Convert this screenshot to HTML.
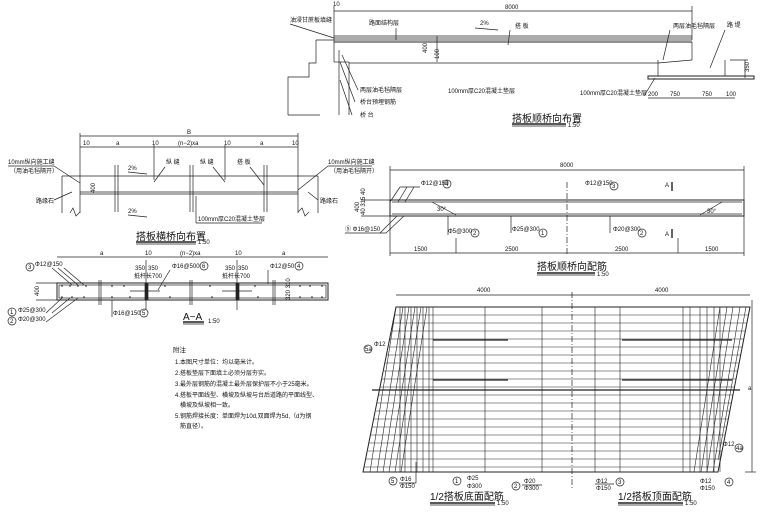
<!DOCTYPE html>
<html><head><meta charset="utf-8"><style>
html,body{margin:0;padding:0;background:#fff;}
svg{display:block;font-family:"Liberation Sans","Noto Sans CJK SC",sans-serif;}
.t{font-size:6px;fill:#111}
.tt{font-size:10px;fill:#111}
</style></head><body>
<svg width="760" height="527" viewBox="0 0 760 527" xmlns="http://www.w3.org/2000/svg" stroke="#222" stroke-width="0.7" fill="none">
<!-- ===== TOP: 搭板顺桥向布置 ===== -->
<line x1="334" y1="11" x2="692" y2="11"/><line x1="334" y1="6" x2="334" y2="40"/><line x1="692" y1="6" x2="692" y2="40"/>
<text x="505" y="9" class="t" stroke="none">8000</text><text x="333" y="6" class="t" stroke="none">10</text>
<line x1="334" y1="36" x2="692" y2="36"/><line x1="334" y1="38" x2="692" y2="38"/><line x1="334" y1="40" x2="692" y2="40"/><line x1="334" y1="42" x2="692" y2="42" stroke-width="1"/>
<line x1="334" y1="40" x2="334" y2="62"/><line x1="334" y1="62" x2="349" y2="62"/>
<line x1="349" y1="63" x2="658" y2="63"/><line x1="658" y1="63" x2="692" y2="60"/><line x1="692" y1="42" x2="692" y2="60"/>
<line x1="658" y1="60" x2="658" y2="76"/>
<rect x="648" y="76" width="106" height="3" stroke-width="1"/>
<line x1="725" y1="60" x2="725" y2="76"/><line x1="730" y1="60" x2="748" y2="60"/><line x1="745" y1="60" x2="745" y2="78"/>
<text x="749" y="72" class="t" stroke="none" transform="rotate(-90 749 72)">350</text>
<path d="M316 40 H334 M316 40 V63 H309 V77 H288 V115 M288 115 H320 M349 62 V115"/>
<line x1="339" y1="50" x2="339" y2="115"/><line x1="342" y1="55" x2="358" y2="90"/><line x1="340" y1="62" x2="355" y2="102"/><line x1="340" y1="80" x2="352" y2="115"/>
<text x="290" y="22" class="t" stroke="none">油浸甘蔗板填缝</text><line x1="290" y1="24" x2="334" y2="38"/>
<text x="369" y="25" class="t" stroke="none">路面结构层</text><line x1="396" y1="28" x2="396" y2="40"/>
<text x="480" y="25" class="t" stroke="none">2%</text><line x1="475" y1="28" x2="498" y2="30"/>
<text x="515" y="28" class="t" stroke="none">搭 板</text><line x1="510" y1="30" x2="508" y2="45"/>
<text x="673" y="28" class="t" stroke="none">两层油毛毡隔层</text><line x1="670" y1="30" x2="663" y2="60"/>
<text x="727" y="27" class="t" stroke="none">路 堤</text><line x1="725" y1="30" x2="710" y2="68"/>
<text x="424" y="50" class="t" stroke="none" transform="rotate(-90 427 50)">400</text>
<text x="436" y="56" class="t" stroke="none" transform="rotate(-90 439 56)">100</text>
<line x1="437" y1="36" x2="437" y2="62"/>
<text x="360" y="92" class="t" stroke="none">两层油毛毡隔层</text>
<text x="360" y="104" class="t" stroke="none">桥台预埋钢筋</text>
<text x="360" y="117" class="t" stroke="none">桥 台</text>
<text x="448" y="93" class="t" stroke="none">100mm厚C20混凝土垫层</text>
<text x="580" y="95" class="t" stroke="none">100mm厚C20混凝土垫层</text>
<line x1="644" y1="96" x2="655" y2="78"/>
<line x1="648" y1="98" x2="735" y2="98"/>
<text x="648" y="96" class="t" stroke="none">200</text><text x="670" y="96" class="t" stroke="none">750</text><text x="702" y="96" class="t" stroke="none">750</text><text x="726" y="96" class="t" stroke="none">100</text>
<text x="512" y="122" class="tt" stroke="none">搭板顺桥向布置</text><line x1="512" y1="124" x2="566" y2="124" stroke-width="1.4"/><line x1="512" y1="126" x2="566" y2="126"/>
<text x="568" y="127" class="t" stroke="none">1:50</text>

<!-- ===== 搭板横桥向布置 ===== -->
<line x1="80" y1="136" x2="298" y2="136"/><text x="187" y="134" class="t" stroke="none">B</text>
<line x1="80" y1="147" x2="298" y2="147"/>
<line x1="80" y1="133" x2="80" y2="213"/><line x1="298" y1="133" x2="298" y2="213"/>
<line x1="154" y1="145" x2="154" y2="180"/><line x1="225" y1="145" x2="225" y2="180"/>
<text x="83" y="145" class="t" stroke="none">10</text><text x="116" y="145" class="t" stroke="none">a</text><text x="152" y="145" class="t" stroke="none">10</text><text x="178" y="145" class="t" stroke="none">(n−2)xa</text><text x="224" y="145" class="t" stroke="none">10</text><text x="260" y="145" class="t" stroke="none">a</text><text x="292" y="145" class="t" stroke="none">10</text>
<line x1="80" y1="176" x2="298" y2="176"/><line x1="80" y1="192" x2="298" y2="192"/><line x1="80" y1="194" x2="298" y2="194"/>
<line x1="62" y1="176" x2="80" y2="176"/><line x1="62" y1="176" x2="62" y2="213"/><line x1="298" y1="176" x2="318" y2="176"/><line x1="318" y1="176" x2="318" y2="213"/>
<path d="M70 213 L73 208 L76 216 L80 212 M298 212 L302 208 L305 216 L309 212"/>
<line x1="115" y1="165" x2="115" y2="212"/><line x1="118" y1="165" x2="118" y2="212"/>
<line x1="190" y1="165" x2="190" y2="212"/><line x1="193" y1="165" x2="193" y2="212"/>
<line x1="264" y1="165" x2="264" y2="212"/><line x1="267" y1="165" x2="267" y2="212"/>
<text x="128" y="170" class="t" stroke="none">2%</text><line x1="128" y1="172" x2="147" y2="174"/>
<text x="128" y="213" class="t" stroke="none">2%</text><line x1="128" y1="215" x2="147" y2="217"/>
<text x="166" y="164" class="t" stroke="none">纵 缝</text><line x1="165" y1="167" x2="154" y2="182"/>
<text x="200" y="164" class="t" stroke="none">纵 缝</text><line x1="213" y1="167" x2="225" y2="182"/>
<text x="237" y="164" class="t" stroke="none">搭 板</text><line x1="250" y1="167" x2="264" y2="185"/>
<text x="8" y="164" class="t" stroke="none">10mm纵向施工缝</text><text x="10" y="173" class="t" stroke="none">（用油毛毡隔开）</text><line x1="8" y1="166" x2="54" y2="166"/><line x1="54" y1="166" x2="80" y2="183"/>
<text x="328" y="164" class="t" stroke="none">10mm纵向施工缝</text><text x="330" y="173" class="t" stroke="none">（用油毛毡隔开）</text><line x1="328" y1="166" x2="372" y2="166"/><line x1="328" y1="166" x2="298" y2="190"/>
<text x="36" y="203" class="t" stroke="none">路缘石</text><line x1="54" y1="200" x2="72" y2="192"/>
<text x="320" y="203" class="t" stroke="none">路缘石</text><line x1="318" y1="200" x2="308" y2="192"/>
<text x="198" y="221" class="t" stroke="none">100mm厚C20混凝土垫层</text><line x1="196" y1="223" x2="262" y2="223"/><line x1="196" y1="223" x2="196" y2="196"/>
<text x="92" y="190" class="t" stroke="none" transform="rotate(-90 95 190)">400</text>
<text x="136" y="240" class="tt" stroke="none">搭板横桥向布置</text><line x1="136" y1="242" x2="196" y2="242" stroke-width="1.4"/><line x1="136" y1="244" x2="196" y2="244"/>
<text x="198" y="244" class="t" stroke="none">1:50</text>

<!-- ===== A-A ===== -->
<line x1="57" y1="257" x2="328" y2="257"/>
<text x="100" y="255" class="t" stroke="none">a</text><text x="145" y="255" class="t" stroke="none">10</text><text x="180" y="255" class="t" stroke="none">(n−2)xa</text><text x="235" y="255" class="t" stroke="none">10</text><text x="282" y="255" class="t" stroke="none">a</text>
<rect x="57" y="283" width="271" height="17" stroke-width="1"/><rect x="59" y="285" width="267" height="13"/>
<line x1="146" y1="260" x2="146" y2="310"/><line x1="237" y1="260" x2="237" y2="310"/>
<rect x="145" y="283" width="3" height="17" fill="#222"/><rect x="236" y="283" width="3" height="17" fill="#222"/>
<line x1="130" y1="291" x2="160" y2="291"/><line x1="222" y1="291" x2="252" y2="291"/>
<line x1="99" y1="280" x2="99" y2="305"/><line x1="101" y1="280" x2="101" y2="305"/>
<line x1="190" y1="280" x2="190" y2="305"/><line x1="192" y1="280" x2="192" y2="305"/>
<line x1="273" y1="280" x2="273" y2="305"/><line x1="275" y1="280" x2="275" y2="305"/>
<g fill="#222" stroke="none">
<circle cx="62" cy="286" r="0.8"/><circle cx="70" cy="286" r="0.8"/><circle cx="78" cy="286" r="0.8"/><circle cx="86" cy="286" r="0.8"/><circle cx="112" cy="286" r="0.8"/><circle cx="124" cy="286" r="0.8"/><circle cx="165" cy="286" r="0.8"/><circle cx="210" cy="286" r="0.8"/><circle cx="255" cy="286" r="0.8"/><circle cx="300" cy="286" r="0.8"/><circle cx="310" cy="286" r="0.8"/><circle cx="322" cy="286" r="0.8"/>
<circle cx="62" cy="297" r="0.8"/><circle cx="72" cy="297" r="0.8"/><circle cx="84" cy="297" r="0.8"/><circle cx="112" cy="297" r="0.8"/><circle cx="130" cy="297" r="0.8"/><circle cx="170" cy="297" r="0.8"/><circle cx="212" cy="297" r="0.8"/><circle cx="258" cy="297" r="0.8"/><circle cx="300" cy="297" r="0.8"/><circle cx="312" cy="297" r="0.8"/><circle cx="322" cy="297" r="0.8"/>
</g>
<text x="36" y="293" class="t" stroke="none" transform="rotate(-90 39 293)">400</text><line x1="36" y1="283" x2="57" y2="283"/><line x1="36" y1="300" x2="57" y2="300"/>
<circle cx="30" cy="267" r="4"/><text x="28" y="269" class="t" stroke="none">3</text><text x="35" y="266" class="t" stroke="none">Φ12@150</text>
<line x1="52" y1="268" x2="72" y2="285"/><line x1="58" y1="268" x2="78" y2="285"/><line x1="64" y1="268" x2="84" y2="285"/>
<circle cx="12" cy="312" r="4"/><text x="10" y="314" class="t" stroke="none">1</text><text x="18" y="312" class="t" stroke="none">Φ25@300</text>
<circle cx="12" cy="321" r="4"/><text x="10" y="323" class="t" stroke="none">2</text><text x="18" y="321" class="t" stroke="none">Φ20@300</text>
<line x1="46" y1="313" x2="62" y2="298"/><line x1="52" y1="313" x2="70" y2="298"/><line x1="46" y1="322" x2="78" y2="298"/>
<text x="135" y="270" class="t" stroke="none">350</text><text x="148" y="270" class="t" stroke="none">350</text><text x="134" y="278" class="t" stroke="none">抵杆长700</text>
<text x="225" y="270" class="t" stroke="none">350</text><text x="238" y="270" class="t" stroke="none">350</text><text x="222" y="278" class="t" stroke="none">抵杆长700</text>
<text x="172" y="268" class="t" stroke="none">Φ16@500</text><circle cx="204" cy="266" r="4"/><text x="202" y="268" class="t" stroke="none">6</text><line x1="170" y1="270" x2="158" y2="290"/>
<text x="270" y="268" class="t" stroke="none">Φ12@50</text><circle cx="299" cy="266" r="4"/><text x="297" y="268" class="t" stroke="none">4</text><line x1="268" y1="270" x2="268" y2="284"/>
<text x="113" y="315" class="t" stroke="none">Φ16@150</text><circle cx="144" cy="313" r="4"/><text x="142" y="315" class="t" stroke="none">5</text><line x1="112" y1="317" x2="112" y2="300"/>
<text x="288" y="298" class="t" stroke="none" transform="rotate(-90 290 298)">320 310</text>
<text x="183" y="320" class="tt" stroke="none">A−A</text><line x1="183" y1="322" x2="204" y2="322" stroke-width="1.4"/><line x1="183" y1="324" x2="204" y2="324"/><text x="208" y="323" class="t" stroke="none">1:50</text>

<!-- ===== 搭板顺桥向配筋 ===== -->
<line x1="390" y1="170" x2="744" y2="170"/><text x="560" y="167" class="t" stroke="none">8000</text>
<line x1="390" y1="166" x2="390" y2="256"/><line x1="744" y1="166" x2="744" y2="256"/>
<rect x="390" y="200" width="354" height="16" stroke-width="1"/><line x1="392" y1="202" x2="742" y2="202"/><line x1="392" y1="214" x2="742" y2="214"/>
<line x1="567" y1="182" x2="567" y2="256" stroke-dasharray="6 2 1 2"/>
<line x1="432" y1="202" x2="456" y2="215"/><line x1="700" y1="215" x2="722" y2="202"/>
<line x1="456" y1="253" x2="456" y2="238"/><line x1="678" y1="253" x2="678" y2="238"/>
<line x1="390" y1="253" x2="744" y2="253"/>
<text x="414" y="251" class="t" stroke="none">1500</text><text x="505" y="251" class="t" stroke="none">2500</text><text x="615" y="251" class="t" stroke="none">2500</text><text x="705" y="251" class="t" stroke="none">1500</text>
<text x="421" y="185" class="t" stroke="none">Φ12@150</text><circle cx="447" cy="184" r="4"/><text x="445" y="186" class="t" stroke="none">4</text>
<text x="585" y="185" class="t" stroke="none">Φ12@150</text><circle cx="614" cy="186" r="4"/><text x="612" y="188" class="t" stroke="none">3</text>
<line x1="400" y1="187" x2="390" y2="202"/><line x1="407" y1="187" x2="398" y2="202"/><line x1="414" y1="187" x2="405" y2="202"/><line x1="400" y1="187" x2="420" y2="187"/>
<text x="665" y="187" class="t" stroke="none">A</text><line x1="672" y1="182" x2="672" y2="191" stroke-width="1.4"/>
<text x="665" y="236" class="t" stroke="none">A</text><line x1="672" y1="229" x2="672" y2="238" stroke-width="1.4"/>
<text x="345" y="231" class="t" stroke="none">⑤ Φ16@150</text><line x1="380" y1="233" x2="397" y2="216"/><line x1="386" y1="233" x2="404" y2="216"/><line x1="345" y1="233" x2="386" y2="233"/>
<text x="448" y="233" class="t" stroke="none">Φ5@300</text><circle cx="475" cy="233" r="4"/><text x="473" y="235" class="t" stroke="none">2</text><line x1="448" y1="235" x2="448" y2="216"/>
<text x="512" y="231" class="t" stroke="none">Φ25@300</text><circle cx="543" cy="233" r="4"/><text x="541" y="235" class="t" stroke="none">1</text><line x1="511" y1="233" x2="511" y2="216"/>
<text x="613" y="231" class="t" stroke="none">Φ20@300</text><circle cx="642" cy="233" r="4"/><text x="640" y="235" class="t" stroke="none">2</text><line x1="610" y1="233" x2="610" y2="216"/>
<text x="437" y="211" class="t" stroke="none">30°</text><text x="707" y="213" class="t" stroke="none">30°</text>
<text x="357" y="210" class="t" stroke="none" transform="rotate(-90 359 210)">400</text><text x="363" y="213" class="t" stroke="none" transform="rotate(-90 365 213)">40 315 40</text>
<line x1="361" y1="200" x2="390" y2="200"/><line x1="361" y1="216" x2="390" y2="216"/>
<text x="537" y="270" class="tt" stroke="none">搭板顺桥向配筋</text><line x1="537" y1="273" x2="595" y2="273" stroke-width="1.4"/><line x1="537" y1="275" x2="595" y2="275"/>
<text x="597" y="276" class="t" stroke="none">1:50</text>

<!-- ===== notes ===== -->
<g class="t" stroke="none" fill="#111">
<text x="173" y="352" style="font-size:6.5px">附注</text>
<text x="175" y="364">1.本图尺寸单位：均以毫米计。</text>
<text x="175" y="375">2.搭板垫层下面填土必须分层夯实。</text>
<text x="175" y="386">3.最外层钢筋的混凝土最外层保护层不小于25毫米。</text>
<text x="175" y="397">4.搭板平面线型、横坡及纵坡与台后道路的平面线型、</text>
<text x="180" y="407">横坡及纵坡相一致。</text>
<text x="175" y="418">5.钢筋焊接长度：单面焊为10d,双面焊为5d,（d为钢</text>
<text x="180" y="428">筋直径）。</text>
</g>

<!-- ===== plan ===== -->
<line x1="396" y1="295" x2="750" y2="295"/><text x="477" y="292" class="t" stroke="none">4000</text><text x="655" y="292" class="t" stroke="none">4000</text>
<line x1="572" y1="292" x2="572" y2="490" stroke-dasharray="6 2 1 2"/>
<polygon points="396,307 750,307 718,472 363,472" stroke-width="1"/>
<g stroke-width="0.6">
<line x1="395" y1="315" x2="748" y2="315"/><line x1="393" y1="323" x2="747" y2="323"/><line x1="392" y1="331" x2="745" y2="331"/><line x1="390" y1="339" x2="744" y2="339"/><line x1="389" y1="347" x2="742" y2="347"/><line x1="387" y1="355" x2="741" y2="355"/><line x1="385" y1="363" x2="739" y2="363"/><line x1="384" y1="371" x2="738" y2="371"/><line x1="382" y1="379" x2="736" y2="379"/><line x1="380" y1="387" x2="734" y2="387"/><line x1="379" y1="395" x2="733" y2="395"/><line x1="377" y1="403" x2="731" y2="403"/><line x1="376" y1="411" x2="730" y2="411"/><line x1="374" y1="419" x2="728" y2="419"/><line x1="372" y1="427" x2="726" y2="427"/><line x1="371" y1="435" x2="725" y2="435"/><line x1="369" y1="443" x2="723" y2="443"/><line x1="368" y1="451" x2="722" y2="451"/><line x1="366" y1="459" x2="720" y2="459"/><line x1="364" y1="467" x2="718" y2="467"/>
</g>
<line x1="372" y1="390" x2="740" y2="390" stroke-width="1.2"/>
<line x1="433" y1="340" x2="508" y2="340" stroke-width="1.2"/><line x1="433" y1="380" x2="508" y2="380" stroke-width="1.2"/>
<line x1="622" y1="340" x2="732" y2="340" stroke-width="1.2"/><line x1="622" y1="380" x2="732" y2="380" stroke-width="1.2"/>
<g stroke-width="0.6">
<line x1="400" y1="307" x2="400" y2="472"/><line x1="405" y1="307" x2="405" y2="472"/><line x1="411" y1="307" x2="411" y2="472"/><line x1="417" y1="307" x2="417" y2="472"/><line x1="423" y1="307" x2="423" y2="472"/><line x1="429" y1="307" x2="429" y2="472"/><line x1="433" y1="307" x2="433" y2="472"/>
<line x1="396" y1="307" x2="370" y2="472"/><line x1="403" y1="307" x2="377" y2="472"/><line x1="409" y1="307" x2="383" y2="472"/><line x1="415" y1="307" x2="389" y2="472"/><line x1="421" y1="307" x2="395" y2="472"/><line x1="427" y1="307" x2="401" y2="472"/>
<line x1="683" y1="307" x2="683" y2="472"/><line x1="690" y1="307" x2="690" y2="472"/><line x1="700" y1="307" x2="700" y2="472"/><line x1="707" y1="307" x2="707" y2="472"/><line x1="714" y1="307" x2="714" y2="472"/><line x1="720" y1="307" x2="720" y2="472"/>
<line x1="720" y1="307" x2="694" y2="472"/><line x1="727" y1="307" x2="701" y2="472"/><line x1="733" y1="307" x2="707" y2="472"/><line x1="740" y1="307" x2="713" y2="472"/><line x1="746" y1="307" x2="718" y2="460"/>
<line x1="485" y1="307" x2="485" y2="472"/><line x1="542" y1="307" x2="542" y2="472"/><line x1="595" y1="307" x2="595" y2="472"/><line x1="620" y1="307" x2="620" y2="472"/>
</g>
<line x1="752" y1="300" x2="752" y2="472"/><line x1="745" y1="472" x2="756" y2="472"/><text x="748" y="390" class="t" stroke="none">a</text>
<circle cx="368" cy="349" r="4"/><text x="365" y="351" class="t" stroke="none">5a</text><text x="374" y="346" class="t" stroke="none">Φ12</text>
<circle cx="739" cy="448" r="4"/><text x="736" y="450" class="t" stroke="none">4a</text><text x="723" y="446" class="t" stroke="none">Φ12</text>
<circle cx="393" cy="481" r="4"/><text x="391" y="483" class="t" stroke="none">5</text><text x="400" y="481" class="t" stroke="none">Φ16</text><text x="400" y="488" class="t" stroke="none">Φ150</text><line x1="399" y1="483" x2="416" y2="483"/><line x1="416" y1="483" x2="416" y2="462"/>
<circle cx="457" cy="481" r="4"/><text x="455" y="483" class="t" stroke="none">1</text><text x="467" y="480" class="t" stroke="none">Φ25</text><text x="467" y="488" class="t" stroke="none">Φ300</text>
<circle cx="516" cy="486" r="4"/><text x="514" y="488" class="t" stroke="none">2</text><text x="524" y="483" class="t" stroke="none">Φ20</text><text x="524" y="490" class="t" stroke="none">Φ300</text><line x1="522" y1="485" x2="542" y2="485"/>
<text x="596" y="483" class="t" stroke="none">Φ12</text><text x="596" y="490" class="t" stroke="none">Φ150</text><circle cx="620" cy="482" r="4"/><text x="618" y="484" class="t" stroke="none">3</text><line x1="595" y1="484" x2="614" y2="484"/>
<text x="700" y="483" class="t" stroke="none">Φ12</text><text x="700" y="490" class="t" stroke="none">Φ150</text><circle cx="729" cy="482" r="4"/><text x="727" y="484" class="t" stroke="none">4</text>
<text x="430" y="500" class="tt" stroke="none">1/2搭板底面配筋</text><line x1="430" y1="503" x2="495" y2="503" stroke-width="1.4"/><line x1="430" y1="505" x2="495" y2="505"/><text x="497" y="505" class="t" stroke="none">1:50</text>
<text x="618" y="500" class="tt" stroke="none">1/2搭板顶面配筋</text><line x1="618" y1="503" x2="683" y2="503" stroke-width="1.4"/><line x1="618" y1="505" x2="683" y2="505"/><text x="685" y="505" class="t" stroke="none">1:50</text>
</svg>
</body></html>
